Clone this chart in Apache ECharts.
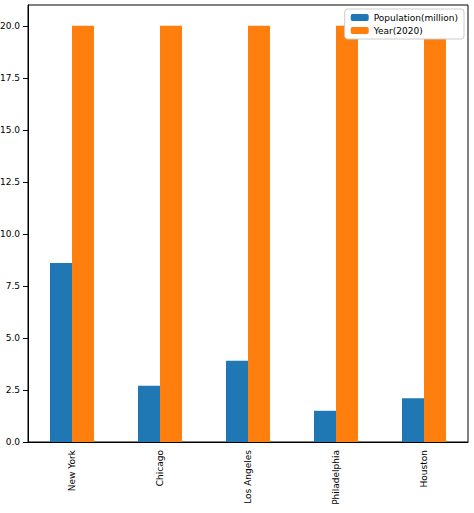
<!DOCTYPE html>
<html><head><meta charset="utf-8">
<script src="https://cdn.jsdelivr.net/npm/echarts@6/dist/echarts.min.js"></script>
<style>html,body{margin:0;padding:0;background:#fff}#c{width:474px;height:513px}</style>
</head><body><div id="c"></div>
<script>
const cities = ["New York","Chicago","Los Angeles","Philadelphia","Houston"];
const population = [8.6,2.7,3.9,1.5,2.1];
const year2020 = [20,20,20,20,20];
const chart = echarts.init(document.getElementById('c'), null, {renderer:'svg'});
const font = 'DejaVu Sans';
chart.setOption({
  animation:false,
  textStyle:{fontFamily:font},
  grid:{left:28,right:6,top:5,bottom:71,containLabel:false,outerBoundsMode:'none',show:true,borderColor:'#000',borderWidth:1},
  legend:{right:10,top:9,orient:'vertical',itemWidth:18,itemHeight:7,itemGap:4,
    textStyle:{fontSize:9,color:'#000',fontFamily:font},
    backgroundColor:'#fff',borderColor:'#ccc',borderWidth:1,borderRadius:3,padding:[4,6],
    data:['Population(million)','Year(2020)']},
  xAxis:{type:'category',data:cities,name:'City',nameLocation:'middle',nameGap:58,
    nameTextStyle:{fontSize:9,color:'#000',fontFamily:font},
    axisLine:{lineStyle:{color:'#000'}},axisTick:{alignWithLabel:true,lineStyle:{color:'#000'}},
    axisLabel:{rotate:90,fontSize:9,color:'#000',fontFamily:font}},
  yAxis:{type:'value',min:0,max:21,interval:2.5,splitLine:{show:false},
    axisLine:{show:true,lineStyle:{color:'#000'}},axisTick:{show:true,lineStyle:{color:'#000'}},
    axisLabel:{fontSize:9,color:'#000',fontFamily:font,showMaxLabel:false,
      formatter:v=>v>20.5?'':v.toFixed(1)}},
  series:[
    {name:'Population(million)',type:'bar',data:population,itemStyle:{color:'#1f77b4'},barWidth:'25%',barGap:'0%'},
    {name:'Year(2020)',type:'bar',data:year2020,itemStyle:{color:'#ff7f0e'},barWidth:'25%',barGap:'0%'}
  ]
});
</script></body></html>
